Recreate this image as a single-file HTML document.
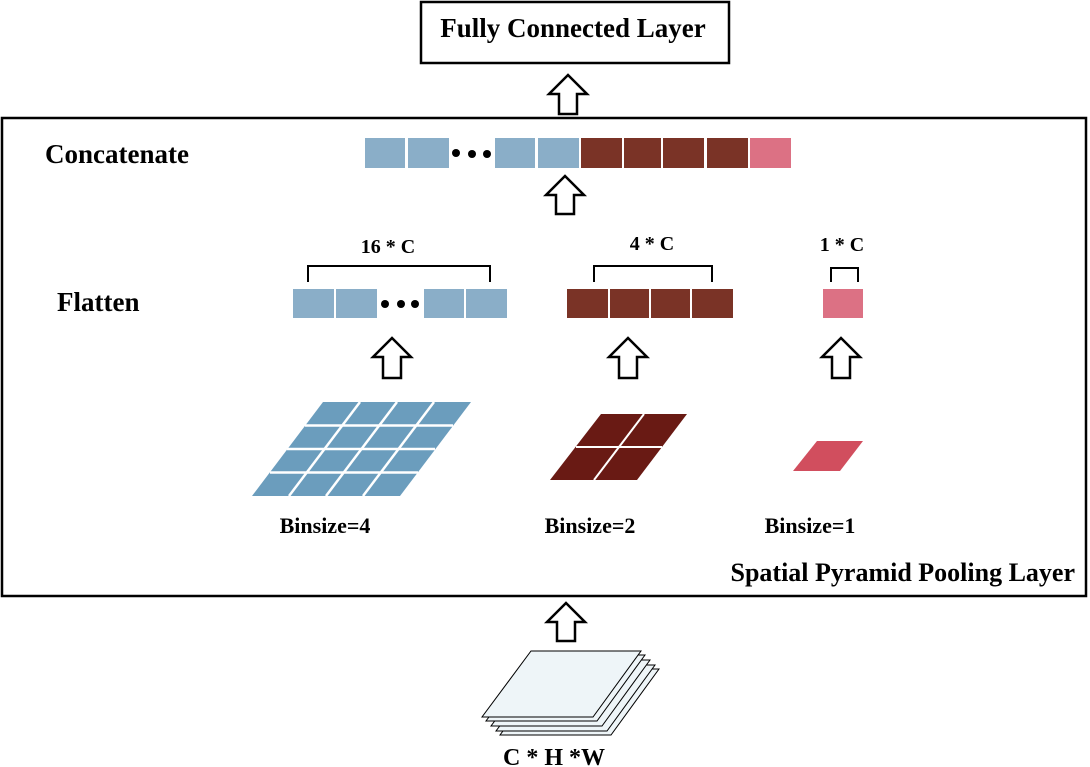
<!DOCTYPE html>
<html><head><meta charset="utf-8"><style>
html,body{margin:0;padding:0;background:#fff;}
svg{display:block;}
text{font-family:"Liberation Serif",serif;font-weight:bold;fill:#000;}
</style></head><body>
<svg width="1090" height="767" viewBox="0 0 1090 767" xmlns="http://www.w3.org/2000/svg">
<rect x="421" y="2" width="308" height="61" fill="#fff" stroke="#000" stroke-width="2.5"/>
<text x="573" y="37" font-size="27" text-anchor="middle">Fully Connected Layer</text>
<rect x="2" y="118" width="1084" height="478" fill="none" stroke="#000" stroke-width="2.5"/>

<g fill="#fff" stroke="#000" stroke-width="2.5" stroke-linejoin="miter">
<path d="M568,75 L587,94 L577,94 L577,114 L559,114 L559,94 L549,94 Z"/>
<path d="M565,176 L584,195 L574,195 L574,214 L556,214 L556,195 L546,195 Z"/>
<path d="M392,338 L411,357 L401,357 L401,378 L383,378 L383,357 L373,357 Z"/>
<path d="M628,338 L647,357 L637,357 L637,378 L619,378 L619,357 L609,357 Z"/>
<path d="M841,338 L860,357 L850,357 L850,378 L832,378 L832,357 L822,357 Z"/>
<path d="M566,603 L585,622 L575,622 L575,641 L557,641 L557,622 L547,622 Z"/>
</g>

<text x="45" y="163" font-size="27">Concatenate</text>
<text x="57" y="311" font-size="27">Flatten</text>

<g fill="#8AAEC8">
<rect x="365" y="138" width="40" height="30"/><rect x="408" y="138" width="41" height="30"/>
<rect x="495" y="138" width="40" height="30"/><rect x="538" y="138" width="41" height="30"/>
</g>
<g fill="#7A3326">
<rect x="581" y="138" width="41" height="30"/><rect x="624" y="138" width="37" height="30"/>
<rect x="663" y="138" width="41" height="30"/><rect x="707" y="138" width="41" height="30"/>
</g>
<rect x="750" y="138" width="41" height="30" fill="#DC7184"/>
<g fill="#000"><circle cx="456" cy="153" r="4"/><circle cx="472" cy="154" r="4"/><circle cx="487" cy="154" r="4"/></g>

<text x="388" y="253" font-size="20" text-anchor="middle">16 * C</text>
<text x="652" y="250" font-size="20" text-anchor="middle">4 * C</text>
<text x="842" y="251" font-size="20" text-anchor="middle">1 * C</text>
<g fill="none" stroke="#000" stroke-width="2">
<path d="M308,282 L308,266 L490,266 L490,282"/>
<path d="M594,282 L594,266 L712,266 L712,282"/>
<path d="M831,282 L831,268 L858,268 L858,282"/>
</g>

<g fill="#8AAEC8">
<rect x="293" y="289" width="41" height="29"/><rect x="336" y="289" width="41" height="29"/>
<rect x="424" y="289" width="40" height="29"/><rect x="466" y="289" width="41" height="29"/>
</g>
<g fill="#000"><circle cx="385" cy="304" r="4"/><circle cx="401" cy="304" r="4"/><circle cx="415" cy="304" r="4"/></g>
<g fill="#7A3326">
<rect x="567" y="289" width="41" height="29"/><rect x="610" y="289" width="39" height="29"/>
<rect x="651" y="289" width="39" height="29"/><rect x="692" y="289" width="41" height="29"/>
</g>
<rect x="823" y="289" width="40" height="29" fill="#DC7184"/>

<polygon points="323,402 471,402 400,496 252,496" fill="#6B9DBD"/>
<g stroke="#fff" stroke-width="2.5">
<line x1="305" y1="425.5" x2="453" y2="425.5"/>
<line x1="287" y1="449" x2="435" y2="449"/>
<line x1="270" y1="472.5" x2="418" y2="472.5"/>
<line x1="360" y1="402" x2="289" y2="496"/>
<line x1="397" y1="402" x2="326" y2="496"/>
<line x1="434" y1="402" x2="363" y2="496"/>
</g>
<polygon points="601,414 687,414 637,480 550,480" fill="#691A14"/>
<g stroke="#fff" stroke-width="2">
<line x1="576" y1="447" x2="662" y2="447"/>
<line x1="644" y1="414" x2="594" y2="480"/>
</g>
<polygon points="817,441 863,441 840,471 793,471" fill="#D14E5E"/>

<text x="325" y="533" font-size="22" text-anchor="middle">Binsize=4</text>
<text x="590" y="533" font-size="22" text-anchor="middle">Binsize=2</text>
<text x="810" y="533" font-size="22" text-anchor="middle">Binsize=1</text>
<text x="1075" y="581" font-size="26" text-anchor="end">Spatial Pyramid Pooling Layer</text>

<g fill="#EEF5F8" stroke="#000" stroke-width="1">
<polygon points="549,669 659,669 611,735 500,735"/>
<polygon points="545,665 655,665 607,731 496,731"/>
<polygon points="540,660 650,660 602,726 491,726"/>
<polygon points="535,655 645,655 597,721 486,721"/>
<polygon points="531,651 641,651 593,717 482,717"/>
</g>
<text x="554" y="765" font-size="24" text-anchor="middle">C * H *W</text>
</svg>
</body></html>
